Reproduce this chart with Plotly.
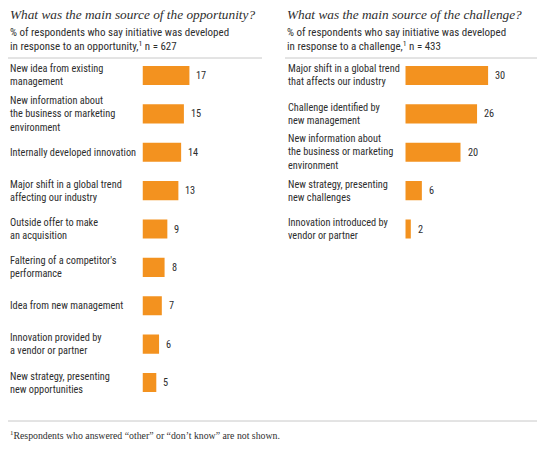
import plotly.graph_objects as go

# opportunity panel
opp_labels = [
    "New idea from existing<br>management",
    "New information about<br>the business or marketing<br>environment",
    "Internally developed innovation",
    "Major shift in a global trend<br>affecting our industry",
    "Outside offer to make<br>an acquisition",
    "Faltering of a competitor's<br>performance",
    "Idea from new management",
    "Innovation provided by<br>a vendor or partner",
    "New strategy, presenting<br>new opportunities",
]
opp_values = [17, 15, 14, 13, 9, 8, 7, 6, 5]

# challenge panel
chal_labels = [
    "Major shift in a global trend<br>that affects our industry",
    "Challenge identified by<br>new management",
    "New information about<br>the business or marketing<br>environment",
    "New strategy, presenting<br>new challenges",
    "Innovation introduced by<br>vendor or partner",
]
chal_values = [30, 26, 20, 6, 2]

# the page body has an 8px margin, so the figure sits at (8, 8)
OFF = 8
W, H = 545 - OFF, 450 - OFF
orange = '#F3921F'
txt = '#2e2e2e'
rule = '#c8c8c8'
sans = "Liberation Sans Narrow, Roboto Condensed, Arial Narrow, Liberation Sans"
serif = "Liberation Serif, DejaVu Serif"


def px(x):
    return (x - OFF) / W


def py(y):
    return 1 - (y - OFF) / H


y_top = py(56.3)
y_bot = py(401.7)
left_x = [px(142.5), px(142.5 + 40 * 2.76)]
right_x = [px(405.3), px(405.3 + 40 * 2.76)]

fig = go.Figure()
fig.add_trace(go.Bar(x=opp_values, y=list(range(len(opp_values))), orientation='h',
                     marker=dict(color=orange, line=dict(width=0)), width=0.5,
                     xaxis='x', yaxis='y', hoverinfo='x'))
fig.add_trace(go.Bar(x=chal_values, y=list(range(len(chal_values))), orientation='h',
                     marker=dict(color=orange, line=dict(width=0)), width=0.5,
                     xaxis='x2', yaxis='y2', hoverinfo='x'))

lab_font = dict(family=sans, size=10.3, color=txt)
ann = []
for i, (lab, v) in enumerate(zip(opp_labels, opp_values)):
    ann.append(dict(x=px(8), xref='paper', y=i, yref='y', text=lab, showarrow=False,
                    xanchor='left', yanchor='middle', align='left', font=lab_font))
    ann.append(dict(x=v, xref='x', y=i, yref='y', text=str(v), showarrow=False,
                    xanchor='left', yanchor='middle', xshift=5, font=lab_font))
for i, (lab, v) in enumerate(zip(chal_labels, chal_values)):
    ann.append(dict(x=px(286), xref='paper', y=i, yref='y2', text=lab, showarrow=False,
                    xanchor='left', yanchor='middle', align='left', font=lab_font))
    ann.append(dict(x=v, xref='x2', y=i, yref='y2', text=str(v), showarrow=False,
                    xanchor='left', yanchor='middle', xshift=5, font=lab_font))

# titles and subtitles
ann += [
    dict(x=px(8), y=py(5), xref='paper', yref='paper', xanchor='left', yanchor='top',
         text="<i>What was the main source of the opportunity?</i>", showarrow=False,
         font=dict(family=serif, size=13.3, color=txt)),
    dict(x=px(285), y=py(5), xref='paper', yref='paper', xanchor='left', yanchor='top',
         text="<i>What was the main source of the challenge?</i>", showarrow=False,
         font=dict(family=serif, size=13.3, color=txt)),
    dict(x=px(8), y=py(24), xref='paper', yref='paper', xanchor='left', yanchor='top',
         align='left', showarrow=False,
         text="% of respondents who say initiative was developed<br>in response to an opportunity,<sup>1</sup> n = 627",
         font=dict(family=sans, size=11, color=txt)),
    dict(x=px(285), y=py(24), xref='paper', yref='paper', xanchor='left', yanchor='top',
         align='left', showarrow=False,
         text="% of respondents who say initiative was developed<br>in response to a challenge,<sup>1</sup> n = 433",
         font=dict(family=sans, size=11, color=txt)),
    dict(x=px(8), y=py(427), xref='paper', yref='paper', xanchor='left', yanchor='top',
         showarrow=False,
         text="<sup>1</sup>Respondents who answered \u201cother\u201d or \u201cdon\u2019t know\u201d are not shown.",
         font=dict(family=serif, size=9.8, color=txt)),
]

shapes = [
    dict(type='line', xref='paper', yref='paper', x0=px(8), x1=px(262),
         y0=py(58), y1=py(58), line=dict(color=rule, width=1)),
    dict(type='line', xref='paper', yref='paper', x0=px(285), x1=px(539),
         y0=py(58), y1=py(58), line=dict(color=rule, width=1)),
    dict(type='line', xref='paper', yref='paper', x0=px(8), x1=px(537),
         y0=py(421), y1=py(421), line=dict(color=rule, width=1)),
]

axis_off = dict(showgrid=False, zeroline=False, showticklabels=False, showline=False, ticks='')
fig.update_layout(
    width=W, height=H,
    margin=dict(l=0, r=0, t=0, b=0),
    paper_bgcolor='white', plot_bgcolor='white',
    showlegend=False,
    xaxis=dict(domain=left_x, range=[0, 40], **axis_off),
    xaxis2=dict(domain=right_x, range=[0, 40], anchor='y2', **axis_off),
    yaxis=dict(domain=[y_bot, y_top], range=[8.5, -0.5], **axis_off),
    yaxis2=dict(domain=[y_bot, y_top], range=[8.5, -0.5], anchor='x2', **axis_off),
    annotations=ann,
    shapes=shapes,
)

fig.write_html("out.html")
